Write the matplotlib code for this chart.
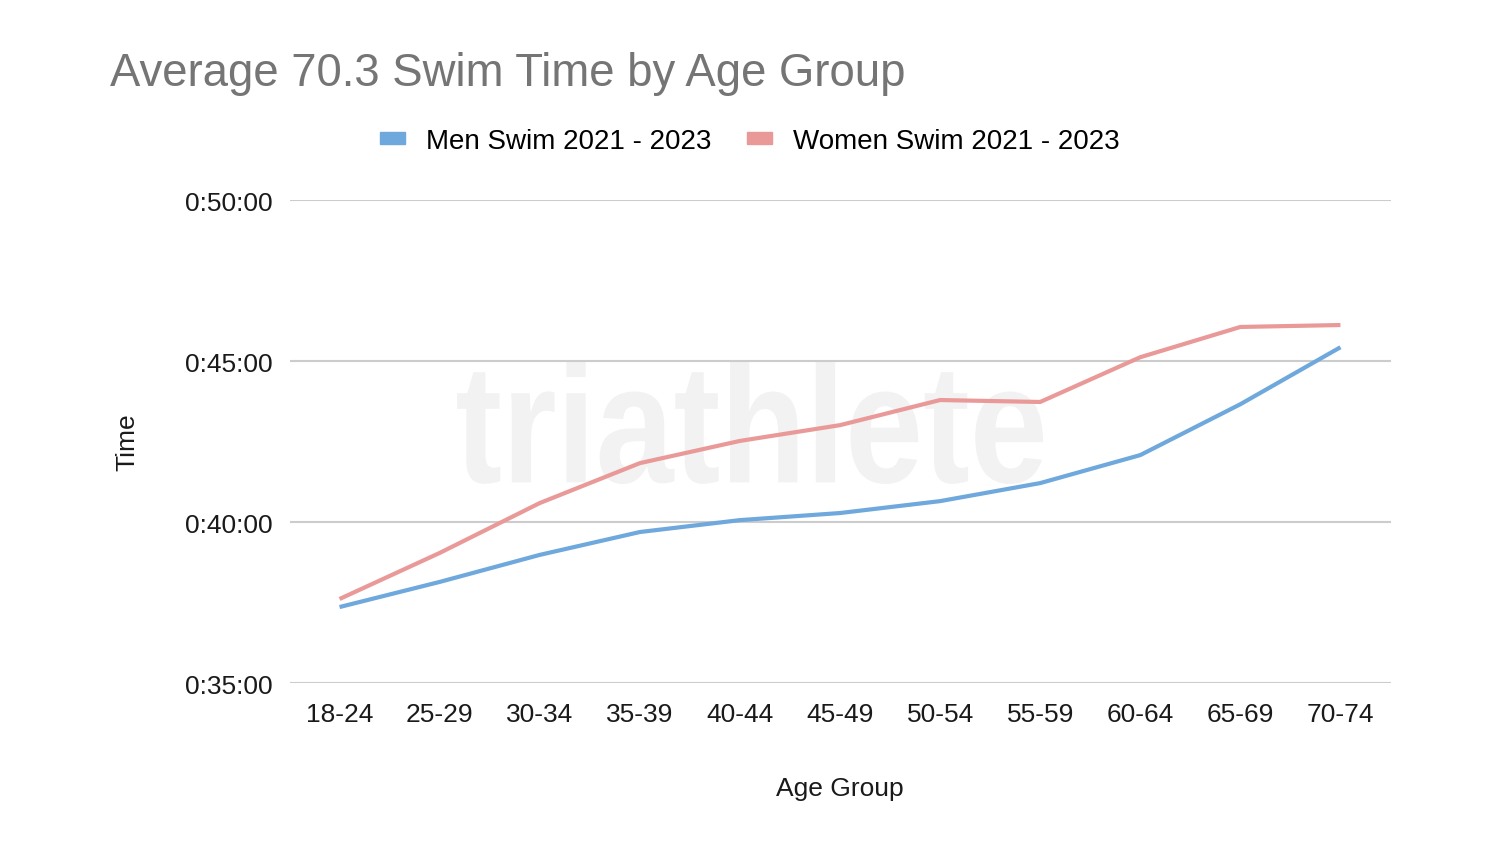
import matplotlib.pyplot as plt
from matplotlib.font_manager import FontProperties
from matplotlib.patches import Patch, PathPatch
from matplotlib.textpath import TextPath
from matplotlib.transforms import Affine2D
from matplotlib.ticker import FuncFormatter

plt.rcParams['font.family'] = ['Liberation Sans', 'DejaVu Sans']

# --- Données (minutes) ---
age_groups = ["18-24", "25-29", "30-34", "35-39", "40-44", "45-49",
              "50-54", "55-59", "60-64", "65-69", "70-74"]
men_swim = [37.36, 38.14, 38.98, 39.69, 40.06, 40.28, 40.65, 41.21, 42.08, 43.66, 45.43]
women_swim = [37.61, 39.04, 40.59, 41.83, 42.52, 43.01, 43.79, 43.73, 45.12, 46.06, 46.12]
y_ticks = [35, 40, 45, 50]

men_color = "#6fa8dc"
women_color = "#ea9999"
W, H = 1500, 845


def fmt_time(v, pos):
    m = int(round(v))
    return f"0:{m:02d}:00"


fig = plt.figure(figsize=(W / 100, H / 100), dpi=100)
ax = fig.add_axes([0.193, 0.1905, 0.734, 0.5715])
ax.patch.set_alpha(0)

# --- Filigrane "triathlete" étiré dans sa boîte (pixels de l'image), sous les axes ---
wm = TextPath((0, 0), "triathlete", size=100,
              prop=FontProperties(family="Liberation Sans", weight="bold"))
ext = wm.get_extents()
box_x0, box_x1, box_top, box_bot = 457, 1043, 361, 485
sx = (box_x1 - box_x0) / ext.width
sy = (box_bot - box_top) / ext.height
tr = Affine2D().translate(-ext.x0, -ext.y0).scale(sx, sy).translate(box_x0, H - box_bot)
fig.add_artist(PathPatch(wm, transform=tr, facecolor="#f2f2f2", edgecolor="none", zorder=-1))

x = range(len(age_groups))
ax.plot(x, men_swim, color=men_color, lw=3, solid_capstyle="butt")
ax.plot(x, women_swim, color=women_color, lw=3, solid_capstyle="butt")

ax.set_xlim(-0.5, len(age_groups) - 0.5)
ax.set_ylim(35, 50)
ax.set_yticks(y_ticks)
ax.yaxis.set_major_formatter(FuncFormatter(fmt_time))
ax.set_xticks(list(x))
ax.set_xticklabels(age_groups)
ax.tick_params(axis="both", length=0, labelsize=19, labelcolor="#1a1a1a")
ax.tick_params(axis="x", pad=14)
ax.tick_params(axis="y", pad=12)
ax.grid(axis="y", color="#cccccc", lw=1.5)
ax.set_axisbelow(True)
for s in ax.spines.values():
    s.set_visible(False)

ax.set_xlabel("Age Group", fontsize=19, color="#1a1a1a", labelpad=36)
ax.set_ylabel("Time", fontsize=19, color="#1a1a1a", labelpad=33)

fig.text(0.073, 0.913, "Average 70.3 Swim Time by Age Group", fontsize=32.8,
         color="#757575", va="center", ha="left")
handles = [Patch(color=men_color), Patch(color=women_color)]
fig.legend(handles, ["Men Swim 2021 - 2023", "Women Swim 2021 - 2023"],
           loc="center", bbox_to_anchor=(0.5, 0.832), ncol=2, frameon=False,
           fontsize=20, handlelength=0.9, handleheight=0.3, handletextpad=0.75,
           columnspacing=1.3)

fig.savefig("out.png", dpi=100, facecolor="white")
